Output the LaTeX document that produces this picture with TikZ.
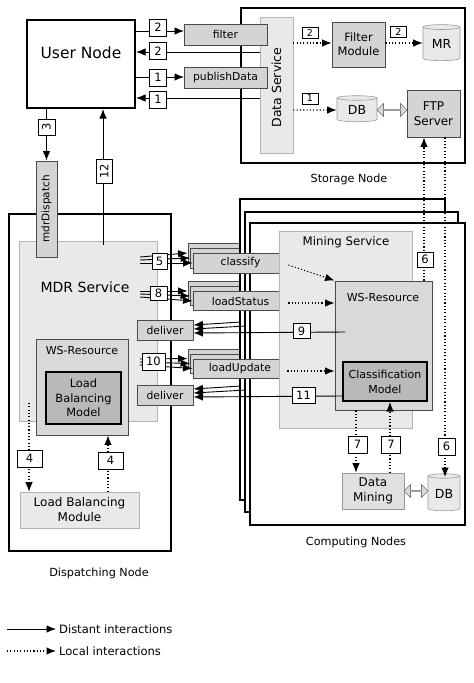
\documentclass[tikz,border=0pt]{standalone}
\usepackage{fontspec}
\setmainfont{DejaVu Sans}
\usetikzlibrary{arrows.meta,shapes.geometric,shapes.arrows,calc}
\definecolor{svcfill}{HTML}{E9E9E9}
\definecolor{svcdraw}{HTML}{B4B4B4}
\definecolor{opfill}{HTML}{D4D4D4}
\definecolor{opdraw}{HTML}{4A4A4A}
\definecolor{wsfill}{HTML}{D9D9D9}
\definecolor{modfill}{HTML}{B9B9B9}
\definecolor{dbfill}{HTML}{E9E9E9}
\definecolor{dbdraw}{HTML}{9A9A9A}
\newcommand\myfs[2]{\fontsize{#1}{#2}\selectfont}
\begin{document}
\begin{tikzpicture}[x=1pt,y=-1pt,
  dist/.style={draw=black, line width=0.9pt, -{Latex[length=9.5pt,width=7.5pt]}},
  loc/.style={draw=black, line width=1.1pt, dash pattern=on 1.1pt off 2.2pt, -{Latex[length=9.5pt,width=7.5pt]}},
  frame/.style={draw=black, line width=2pt, fill=white, inner sep=0pt},
  svc/.style={draw=svcdraw, fill=svcfill, line width=0.6pt, inner sep=0pt, align=center, font=\myfs{12}{15}},
  op/.style={draw=opdraw, fill=opfill, line width=0.9pt, inner sep=0pt, align=center, font=\myfs{10.8}{13}},
  ws/.style={draw=opdraw, fill=wsfill, line width=0.9pt, inner sep=0pt},
  model/.style={draw=black, fill=modfill, line width=2pt, inner sep=0pt, align=center, font=\myfs{11.4}{14.5}},
  num/.style={draw=black, fill=white, line width=0.9pt, inner sep=0pt, font=\myfs{11.5}{13}},
  snum/.style={draw=black, fill=white, line width=0.8pt, inner sep=0pt, minimum width=16pt, minimum height=11pt, font=\myfs{9.5}{10}},
  db/.style={cylinder, shape border rotate=90, aspect=0.25, draw=dbdraw, fill=dbfill, line width=0.6pt, inner sep=0pt, font=\myfs{12.5}{14}},
  dbl/.style={double arrow, draw=black!55, fill=black!15, line width=0.6pt, double arrow head extend=3pt, minimum width=13pt, inner sep=0pt},
  lbl/.style={inner sep=0pt}
]
\useasboundingbox (0,0) rectangle (474,683);

% ---------------- Storage node
\node[frame, minimum width=224, minimum height=155] (sn) at (353,85.5) {};
\node[lbl, font=\myfs{11.2}{13}] (snt) at (349,179) {Storage Node};
\node[svc, minimum width=33, minimum height=136] (ds) at (276.5,85) {};
\node[lbl, rotate=90, font=\myfs{12.5}{14}] (dst) at (276.5,87.5) {Data Service};

% ---------------- User node
\node[frame, minimum width=108, minimum height=88] (un) at (81,64) {};
\node[lbl, font=\myfs{15.5}{18}] (unt) at (81,53) {User Node};

% user <-> storage
\draw[dist] (un.east |- 0,31) -- (184,31);
\draw[dist] (ds.west |- 0,52) -- (un.east |- 0,52);
\draw[dist] (un.east |- 0,77) -- (184,77);
\draw[dist] (ds.west |- 0,98) -- (un.east |- 0,98);
\node[op, minimum width=83, minimum height=21] (fl) at (225.5,34.5) {filter};
\node[op, minimum width=83, minimum height=21] (pd) at (225.5,77.5) {publishData};
\node[num, minimum width=17, minimum height=17] (n2a) at (158,27.5) {2};
\node[num, minimum width=17, minimum height=17] (n2b) at (158,51) {2};
\node[num, minimum width=17, minimum height=17] (n1a) at (158,77.5) {1};
\node[num, minimum width=17, minimum height=17] (n1b) at (158,99.5) {1};

% storage internals
\node[op, minimum width=53, minimum height=45, font=\myfs{11.5}{14}] (fm) at (358.5,44.5) {Filter\\Module};
\node[db, minimum width=37, minimum height=36] (mr) at (441.5,44) {MR};
\node[db, minimum width=40, minimum height=26] (db1) at (357,110) {DB};
\node[op, minimum width=53, minimum height=47, font=\myfs{12}{14.5}] (ftp) at (433.5,113.5) {FTP\\Server};
\node[dbl, minimum height=30] (da1) at (392,110) {};
\draw[loc] (ds.east |- 0,43) -- (fm.west |- 0,43);
\draw[loc] (fm.east |- 0,43) -- (mr.west |- 0,43);
\draw[loc] (ds.east |- 0,110) -- (db1.west);
\node[snum] (s2a) at (310,32.5) {2};
\node[snum] (s2b) at (398.5,32) {2};
\node[snum] (s1) at (310,98.5) {1};

% ---------------- Dispatching node
\node[frame, minimum width=162, minimum height=337] (dn) at (90,382.5) {};
\node[lbl, font=\myfs{11.2}{13}] (dnt) at (99,573) {Dispatching Node};
\node[svc, minimum width=138, minimum height=180] (mdr) at (88,331) {};
\node[lbl, font=\myfs{14}{16}] (mdrt) at (85,287) {MDR Service};
\node[op, minimum width=21, minimum height=96] (md) at (46.5,209) {};
\node[lbl, rotate=90, font=\myfs{10.5}{12}] (mdt) at (46.5,209) {mdrDispatch};
\node[ws, minimum width=92, minimum height=96] (wsd) at (82,387) {};
\node[lbl, font=\myfs{11}{13}] (wsdt) at (82,350) {WS-Resource};
\node[model, minimum width=75, minimum height=52] (lbm) at (83.5,398) {Load\\Balancing\\Model};
\node[svc, minimum width=119, minimum height=36] (lbmod) at (79.5,510) {Load Balancing\\Module};
\node[op, minimum width=56, minimum height=20] (dl1) at (165,330) {deliver};
\node[op, minimum width=56, minimum height=20] (dl2) at (165,395) {deliver};

% user <-> dispatch
\draw[dist] (un.south -| md.north) -- (md.north);
\node[num, minimum width=17, minimum height=16] (n3) at (46.5,127) {\rotatebox{90}{3}};
\coordinate (m12) at (103,245);
\draw[dist] (m12) -- (un.south -| m12);
\node[num, minimum width=16, minimum height=24] (n12) at (104,171) {\rotatebox{90}{12}};

% dispatch local
\coordinate (m4) at (29,403);
\draw[loc] (m4) -- (lbmod.north -| m4);
\draw[loc] (lbmod.north -| 108,0) -- (wsd.south -| 108,0);
\node[num, minimum width=25, minimum height=17] (n4a) at (29.5,458.5) {4};
\node[num, minimum width=25, minimum height=17] (n4b) at (110.5,460.5) {4};

% ---------------- stacked operation boxes (back copies)
\node[op, minimum width=95, minimum height=20] (clb) at (235.5,253) {};
\node[op, minimum width=95, minimum height=20] (clm) at (238,258) {};
\node[op, minimum width=95, minimum height=19] (lsb) at (235.5,291) {};
\node[op, minimum width=95, minimum height=19] (lsm) at (238,296) {};
\node[op, minimum width=94, minimum height=19] (lub) at (235,358.5) {};
\node[op, minimum width=94, minimum height=19] (lum) at (237.5,363.5) {};

% ---------------- Computing nodes
\node[frame, minimum width=205, minimum height=301] (cb) at (342.5,349.5) {};
\node[frame, minimum width=213, minimum height=300] (cm) at (351.5,362) {};
\node[frame, minimum width=215, minimum height=302] (cf) at (357.5,374) {};
\node[lbl, font=\myfs{11.2}{13}] (cft) at (356,542) {Computing Nodes};

\node[op, minimum width=95, minimum height=20] (cl) at (240.5,263) {classify};
\node[op, minimum width=95, minimum height=19] (ls) at (240.5,301) {loadStatus};
\node[op, minimum width=94, minimum height=19] (lu) at (240,368.5) {loadUpdate};

\node[svc, minimum width=133, minimum height=197] (ms) at (345.5,329.5) {};
\node[lbl, font=\myfs{11.8}{14}] (mst) at (346,242) {Mining Service};
\node[ws, minimum width=97, minimum height=129] (wsm) at (383.5,345.5) {};
\node[lbl, font=\myfs{11}{13}] (wsmt) at (383,297) {WS-Resource};
\node[model, minimum width=84, minimum height=39, font=\myfs{11}{15}] (cmod) at (385,381.5) {Classification\\Model};
\node[svc, minimum width=62, minimum height=36, draw=black!40, fill=black!12] (dmi) at (373,491) {Data\\Mining};
\node[db, minimum width=32, minimum height=37] (db2) at (444,493.5) {DB};
\node[dbl, minimum height=24] (da2) at (416,491) {};

% local interactions inside computing node
\draw[loc] (cl.east |- 0,265) -- (wsm.north west);
\draw[loc] (ls.east |- 0,303) -- (wsm.west |- 0,303);
\draw[loc] (lu.east |- 0,371) -- (wsm.west |- 0,371);
\draw[loc] (wsm.south -| 356,0) -- (dmi.north -| 356,0);
\draw[loc] (dmi.north -| 390,0) -- (cmod.south -| 390,0);
\node[num, minimum width=19, minimum height=17] (n7a) at (357.5,444.5) {7};
\node[num, minimum width=19, minimum height=17] (n7b) at (391,444.5) {7};

% FTP links
\draw[loc] (wsm.north -| 424,0) -- (ftp.south -| 424,0);
\coordinate (db2top) at (445,477);
\draw[loc] (ftp.south -| db2top) -- (db2top);
\node[num, minimum width=16, minimum height=15] (n6a) at (425,259.5) {6};
\node[num, minimum width=17, minimum height=17] (n6b) at (446.5,446.5) {6};

% ---------------- distant interactions dispatch <-> computing
\coordinate (s5a) at (140,257);
\coordinate (s5b) at (140,260);
\coordinate (s5c) at (140,263);
\draw[dist] (s5a) -- (clb.west);
\draw[dist] (s5b) -- (clm.west);
\draw[dist] (s5c) -- (cl.west);
\node[num, minimum width=15, minimum height=16] (n5) at (159.5,261) {5};

\coordinate (s8a) at (140,291);
\coordinate (s8b) at (140,294);
\coordinate (s8c) at (140,297);
\draw[dist] (s8a) -- (lsb.west);
\draw[dist] (s8b) -- (lsm.west);
\draw[dist] (s8c) -- (ls.west);
\node[num, minimum width=17, minimum height=14] (n8) at (158.5,293) {8};

\coordinate (s10a) at (140,359);
\coordinate (s10b) at (140,362);
\coordinate (s10c) at (140,365);
\draw[dist] (s10a) -- (lub.west);
\draw[dist] (s10b) -- (lum.west);
\draw[dist] (s10c) -- (lu.west);
\node[num, minimum width=23, minimum height=17] (n10) at (153.5,361.5) {10};

\coordinate (d9a) at (241,322);
\coordinate (d9b) at (246,326);
\coordinate (d9c) at (345,332);
\draw[dist] (d9a) -- (dl1.east |- 0,325);
\draw[dist] (d9b) -- (dl1.east |- 0,329);
\draw[dist] (d9c) -- (dl1.east |- 0,333);
\node[num, minimum width=17, minimum height=15] (n9) at (301.5,331) {9};

\coordinate (d11a) at (241,386);
\coordinate (d11b) at (246,390);
\draw[dist] (d11a) -- (dl2.east |- 0,389);
\draw[dist] (d11b) -- (dl2.east |- 0,393);
\draw[dist] (cmod.west |- 0,396) -- (dl2.east |- 0,397);
\node[num, minimum width=23, minimum height=16] (n11) at (303.5,395) {11};

% ---------------- legend
\coordinate (lg1a) at (7,629);
\coordinate (lg1b) at (56,629);
\coordinate (lg2a) at (7,651);
\coordinate (lg2b) at (56,651);
\draw[dist] (lg1a) -- (lg1b);
\draw[loc] (lg2a) -- (lg2b);
\node[lbl, anchor=west, font=\myfs{11.5}{13}] (lg1t) at (59,629) {Distant interactions};
\node[lbl, anchor=west, font=\myfs{11.5}{13}] (lg2t) at (59,651) {Local interactions};
\end{tikzpicture}
\end{document}
